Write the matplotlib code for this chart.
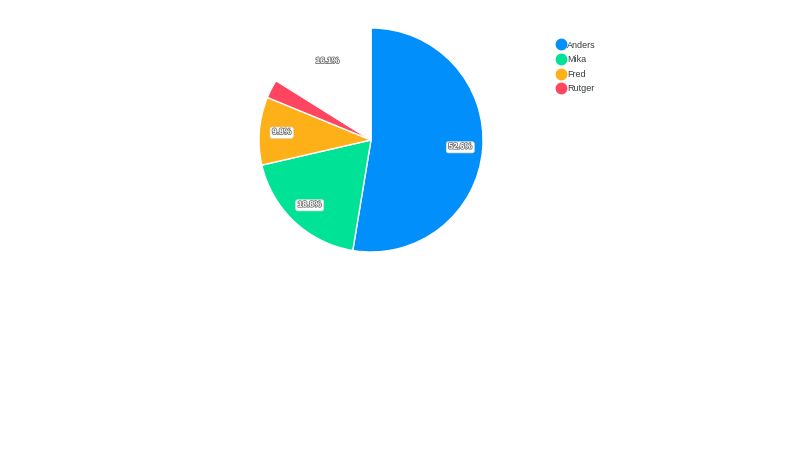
import matplotlib
matplotlib.use('Agg')
import matplotlib.pyplot as plt
import matplotlib.patheffects as pe
from matplotlib.lines import Line2D
import numpy as np

plt.rcParams['font.family'] = ['Liberation Sans', 'DejaVu Sans']

names = ['Anders', 'Mika', 'Fred', 'Rutger', '']
shares = [52.6, 18.8, 9.8, 2.7, 16.1]
colors = ['#008FFB', '#00E396', '#FEB019', '#FF4560', '#FFFFFF']

fig = plt.figure(figsize=(8, 4.5), dpi=100)
ax = fig.add_axes([259 / 800, (450 - 140 - 112) / 450, 224 / 800, 224 / 450])

wedges, _ = ax.pie(shares, colors=colors, startangle=90, counterclock=False,
                   radius=1, wedgeprops=dict(edgecolor='white', linewidth=1))

# labels, small slices get none (like the original)
for i, (w, v) in enumerate(zip(wedges, shares)):
    if v < 5:
        continue
    mid = np.deg2rad((w.theta1 + w.theta2) / 2)
    x, y = 0.8 * np.cos(mid), 0.8 * np.sin(mid)
    boxed = i < 4
    ax.text(x, y, f'{v:.1f}%', ha='center', va='center', fontsize=6,
            fontweight='bold', color='white',
            path_effects=[pe.withStroke(linewidth=1.2, foreground='#777777')],
            bbox=dict(boxstyle='round,pad=0.25', fc='white', ec='#dddddd', lw=0.5) if boxed else None)

ax.set_xlim(-1, 1)
ax.set_ylim(-1, 1)
ax.set_aspect('equal')
ax.axis('off')

handles = [Line2D([], [], marker='o', linestyle='', markersize=7.5,
                  markerfacecolor=c, markeredgecolor=c) for c in colors[:4]]
leg = fig.legend(handles, names[:4], loc='upper left',
                 bbox_to_anchor=(551 / 800, 1 - 36 / 450), frameon=False,
                 fontsize=6.5, handletextpad=0.1, labelspacing=0.62,
                 handlelength=1.2, borderpad=0)
for t in leg.get_texts():
    t.set_color('#373d3f')

fig.savefig('out.png', dpi=100)
